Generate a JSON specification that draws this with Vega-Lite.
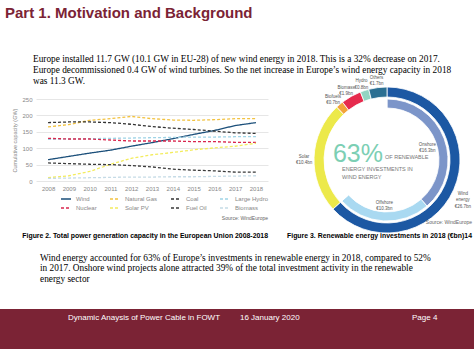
{
  "$schema": "https://vega.github.io/schema/vega-lite/v6.json",
  "padding": {"left": 0, "top": 5, "right": 0, "bottom": 0},
  "background": "white",
  "config": {"view": {"stroke": null}, "font": "Liberation Sans"},
  "title": {"text": "Part 1. Motivation and Background", "anchor": "start", "dx": 5, "font": "Liberation Sans", "fontSize": 15, "fontWeight": "bold", "color": "#7b2335", "offset": 34},
  "datasets": {
    "capacity": [
      {"year": "2008", "source": "Wind", "gw": 65}, {"year": "2009", "source": "Wind", "gw": 75}, {"year": "2010", "source": "Wind", "gw": 85}, {"year": "2011", "source": "Wind", "gw": 94}, {"year": "2012", "source": "Wind", "gw": 106}, {"year": "2013", "source": "Wind", "gw": 117}, {"year": "2014", "source": "Wind", "gw": 129}, {"year": "2015", "source": "Wind", "gw": 142}, {"year": "2016", "source": "Wind", "gw": 154}, {"year": "2017", "source": "Wind", "gw": 169}, {"year": "2018", "source": "Wind", "gw": 178},
      {"year": "2008", "source": "Natural Gas", "gw": 165}, {"year": "2009", "source": "Natural Gas", "gw": 172}, {"year": "2010", "source": "Natural Gas", "gw": 185}, {"year": "2011", "source": "Natural Gas", "gw": 190}, {"year": "2012", "source": "Natural Gas", "gw": 197}, {"year": "2013", "source": "Natural Gas", "gw": 190}, {"year": "2014", "source": "Natural Gas", "gw": 186}, {"year": "2015", "source": "Natural Gas", "gw": 185}, {"year": "2016", "source": "Natural Gas", "gw": 187}, {"year": "2017", "source": "Natural Gas", "gw": 190}, {"year": "2018", "source": "Natural Gas", "gw": 190},
      {"year": "2008", "source": "Coal", "gw": 178}, {"year": "2009", "source": "Coal", "gw": 180}, {"year": "2010", "source": "Coal", "gw": 180}, {"year": "2011", "source": "Coal", "gw": 178}, {"year": "2012", "source": "Coal", "gw": 173}, {"year": "2013", "source": "Coal", "gw": 166}, {"year": "2014", "source": "Coal", "gw": 161}, {"year": "2015", "source": "Coal", "gw": 157}, {"year": "2016", "source": "Coal", "gw": 152}, {"year": "2017", "source": "Coal", "gw": 147}, {"year": "2018", "source": "Coal", "gw": 145},
      {"year": "2008", "source": "Large Hydro", "gw": 127}, {"year": "2009", "source": "Large Hydro", "gw": 128}, {"year": "2010", "source": "Large Hydro", "gw": 129}, {"year": "2011", "source": "Large Hydro", "gw": 130}, {"year": "2012", "source": "Large Hydro", "gw": 131}, {"year": "2013", "source": "Large Hydro", "gw": 132}, {"year": "2014", "source": "Large Hydro", "gw": 133}, {"year": "2015", "source": "Large Hydro", "gw": 134}, {"year": "2016", "source": "Large Hydro", "gw": 134}, {"year": "2017", "source": "Large Hydro", "gw": 135}, {"year": "2018", "source": "Large Hydro", "gw": 135},
      {"year": "2008", "source": "Nuclear", "gw": 130}, {"year": "2009", "source": "Nuclear", "gw": 128}, {"year": "2010", "source": "Nuclear", "gw": 128}, {"year": "2011", "source": "Nuclear", "gw": 125}, {"year": "2012", "source": "Nuclear", "gw": 122}, {"year": "2013", "source": "Nuclear", "gw": 122}, {"year": "2014", "source": "Nuclear", "gw": 122}, {"year": "2015", "source": "Nuclear", "gw": 120}, {"year": "2016", "source": "Nuclear", "gw": 120}, {"year": "2017", "source": "Nuclear", "gw": 118}, {"year": "2018", "source": "Nuclear", "gw": 118},
      {"year": "2008", "source": "Solar PV", "gw": 10}, {"year": "2009", "source": "Solar PV", "gw": 16}, {"year": "2010", "source": "Solar PV", "gw": 29}, {"year": "2011", "source": "Solar PV", "gw": 51}, {"year": "2012", "source": "Solar PV", "gw": 69}, {"year": "2013", "source": "Solar PV", "gw": 80}, {"year": "2014", "source": "Solar PV", "gw": 87}, {"year": "2015", "source": "Solar PV", "gw": 95}, {"year": "2016", "source": "Solar PV", "gw": 101}, {"year": "2017", "source": "Solar PV", "gw": 106}, {"year": "2018", "source": "Solar PV", "gw": 115},
      {"year": "2008", "source": "Fuel Oil", "gw": 55}, {"year": "2009", "source": "Fuel Oil", "gw": 53}, {"year": "2010", "source": "Fuel Oil", "gw": 51}, {"year": "2011", "source": "Fuel Oil", "gw": 50}, {"year": "2012", "source": "Fuel Oil", "gw": 47}, {"year": "2013", "source": "Fuel Oil", "gw": 43}, {"year": "2014", "source": "Fuel Oil", "gw": 36}, {"year": "2015", "source": "Fuel Oil", "gw": 33}, {"year": "2016", "source": "Fuel Oil", "gw": 31}, {"year": "2017", "source": "Fuel Oil", "gw": 27}, {"year": "2018", "source": "Fuel Oil", "gw": 27},
      {"year": "2008", "source": "Biomass", "gw": 8}, {"year": "2009", "source": "Biomass", "gw": 9}, {"year": "2010", "source": "Biomass", "gw": 10}, {"year": "2011", "source": "Biomass", "gw": 11}, {"year": "2012", "source": "Biomass", "gw": 12}, {"year": "2013", "source": "Biomass", "gw": 12}, {"year": "2014", "source": "Biomass", "gw": 13}, {"year": "2015", "source": "Biomass", "gw": 13}, {"year": "2016", "source": "Biomass", "gw": 14}, {"year": "2017", "source": "Biomass", "gw": 15}, {"year": "2018", "source": "Biomass", "gw": 16}
    ],
    "outer": [
      {"segment": "Wind energy", "value": 26.7, "rank": 1, "label": "Wind\nenergy\n€26.7bn"},
      {"segment": "Solar", "value": 10.4, "rank": 2, "label": "Solar\n€10.4bn"},
      {"segment": "Biofuels", "value": 0.7, "rank": 3, "label": "Biofuels\n€0.7bn"},
      {"segment": "Biomass", "value": 1.9, "rank": 4, "label": "Biomass\n€1.9bn"},
      {"segment": "Hydro", "value": 0.8, "rank": 5, "label": "Hydro\n€0.8bn"},
      {"segment": "Others", "value": 1.7, "rank": 6, "label": "Others\n€1.7bn"}
    ],
    "inner": [
      {"segment": "Onshore", "value": 16.3, "rank": 1, "label": "Onshore\n€16.3bn"},
      {"segment": "Offshore", "value": 10.4, "rank": 2, "label": "Offshore\n€10.3bn"},
      {"segment": "Rest", "value": 15.5, "rank": 3, "label": ""}
    ],
    "footer": [
      {"label": "Dynamic Anaysis of Power Cable in FOWT"},
      {"label": "16 January 2020"},
      {"label": "Page 4"}
    ]
  },
  "align": "none",
  "spacing": 14,
  "vconcat": [
    {
      "title": {"text": ["Europe installed 11.7 GW (10.1 GW in EU-28) of new wind energy in 2018. This is a 32% decrease on 2017.", "Europe decommissioned 0.4 GW of wind turbines. So the net increase in Europe’s wind energy capacity in 2018", "was 11.3 GW."], "anchor": "start", "dx": 33, "font": "Liberation Serif", "fontSize": 9.3, "fontWeight": "normal", "color": "#000", "lineHeight": 11.2, "offset": -12},
      "spacing": 0,
      "hconcat": [
        {
          "width": 12, "height": 10,
          "view": {"fill": "white", "stroke": null},
          "data": {"values": [{"t": ""}]},
          "mark": {"type": "text"},
          "encoding": {"text": {"field": "t"}}
        },
        {
          "spacing": 18,
          "resolve": {"scale": {"color": "independent", "strokeDash": "independent", "theta": "independent"}, "legend": {"color": "independent", "strokeDash": "independent"}},
          "hconcat": [
            {
              "width": 232, "height": 82,
              "data": {"name": "capacity"},
              "title": {"text": "Source: WindEurope", "subtitle": "Figure 2. Total power generation capacity in the European Union 2008-2018", "orient": "bottom", "anchor": "end", "frame": "group", "font": "Liberation Sans", "fontSize": 5, "fontWeight": "normal", "color": "#666", "subtitleFont": "Liberation Sans", "subtitleFontSize": 6.9, "subtitleFontWeight": "bold", "subtitleColor": "#000", "offset": 5, "subtitlePadding": 12},
              "mark": {"type": "line", "strokeWidth": 1.3},
              "encoding": {
                "x": {"field": "year", "type": "ordinal", "scale": {"type": "point", "padding": 0.58}, "axis": {"title": null, "labelAngle": 0, "labelFontSize": 6, "labelColor": "#888", "domain": false, "ticks": false, "labelPadding": 4}},
                "y": {"field": "gw", "type": "quantitative", "scale": {"domain": [0, 250]}, "axis": {"title": "Cumulative capacity (GW)", "titleFontSize": 5.5, "titleFontWeight": "normal", "titleColor": "#888", "values": [0, 50, 100, 150, 200, 250], "labelFontSize": 6, "labelColor": "#888", "domain": false, "ticks": false, "gridColor": "#e6e6e6", "labelPadding": 4, "titlePadding": 4}},
                "color": {"field": "source", "type": "nominal", "scale": {"domain": ["Wind", "Natural Gas", "Coal", "Large Hydro", "Nuclear", "Solar PV", "Fuel Oil", "Biomass"], "range": ["#1b4f7a", "#f2c240", "#333333", "#9fd4e6", "#d9264d", "#f3ec5e", "#3a3a3a", "#c5dbe6"]}, "legend": {"title": null, "orient": "none", "legendX": 24, "legendY": 94, "direction": "horizontal", "columns": 4, "columnPadding": 10, "rowPadding": -1, "symbolType": "stroke", "symbolSize": 100, "symbolStrokeWidth": 1.5, "labelFontSize": 6, "labelColor": "#888", "labelOffset": 4}},
                "strokeDash": {"field": "source", "type": "nominal", "scale": {"domain": ["Wind", "Natural Gas", "Coal", "Large Hydro", "Nuclear", "Solar PV", "Fuel Oil", "Biomass"], "range": [[1, 0], [3, 2], [3, 2], [3, 2], [3, 2], [3, 2], [3, 2], [3, 2]]}, "legend": {"title": null, "orient": "none", "legendX": 24, "legendY": 94, "direction": "horizontal", "columns": 4, "columnPadding": 10, "rowPadding": -1, "symbolType": "stroke", "symbolSize": 100, "symbolStrokeWidth": 1.5, "labelFontSize": 6, "labelColor": "#888", "labelOffset": 4}}
              }
            },
            {
              "width": 150, "height": 122,
              "title": {"text": "Source: WindEurope", "subtitle": "Figure 3. Renewable energy investments in 2018 (€bn)14", "orient": "bottom", "anchor": "end", "frame": "group", "dx": 10, "font": "Liberation Sans", "fontSize": 5, "fontWeight": "normal", "color": "#666", "subtitleFont": "Liberation Sans", "subtitleFontSize": 6.9, "subtitleFontWeight": "bold", "subtitleColor": "#000", "offset": -15, "subtitlePadding": 8},
              "layer": [
                {
                  "data": {"name": "outer"},
                  "mark": {"type": "arc", "innerRadius": 63, "outerRadius": 73, "stroke": "white", "strokeWidth": 0.8},
                  "encoding": {
                    "theta": {"field": "value", "type": "quantitative", "stack": true},
                    "order": {"field": "rank"},
                    "color": {"field": "segment", "type": "nominal", "scale": {"domain": ["Wind energy", "Solar", "Biofuels", "Biomass", "Hydro", "Others", "Onshore", "Offshore", "Rest"], "range": ["#1c58a3", "#ece94a", "#f2a33a", "#e62a4d", "#93d5c2", "#2b6f92", "#7c95c9", "#a9d9f1", "#ffffff"]}, "legend": null}
                  }
                },
                {
                  "data": {"name": "inner"},
                  "mark": {"type": "arc", "innerRadius": 52, "outerRadius": 61, "stroke": "white", "strokeWidth": 0.8},
                  "encoding": {
                    "theta": {"field": "value", "type": "quantitative", "stack": true},
                    "order": {"field": "rank"},
                    "color": {"field": "segment", "type": "nominal", "legend": null}
                  }
                },
                {
                  "data": {"name": "outer"},
                  "mark": {"type": "text", "radius": 83, "fontSize": 4.5, "lineBreak": "\n", "color": "#555"},
                  "encoding": {
                    "theta": {"field": "value", "type": "quantitative", "stack": true},
                    "order": {"field": "rank"},
                    "text": {"field": "label"}
                  }
                },
                {
                  "data": {"name": "inner"},
                  "mark": {"type": "text", "radius": 43, "fontSize": 4.5, "lineBreak": "\n", "color": "#555"},
                  "encoding": {
                    "theta": {"field": "value", "type": "quantitative", "stack": true},
                    "order": {"field": "rank"},
                    "text": {"field": "label"}
                  }
                },
                {
                  "data": {"values": [{"t": "63%"}]},
                  "mark": {"type": "text", "fontSize": 25, "color": "#7ccfb4", "align": "right", "baseline": "alphabetic", "dx": -4, "dy": 2},
                  "encoding": {"text": {"field": "t"}}
                },
                {
                  "data": {"values": [{"t": "OF RENEWABLE"}]},
                  "mark": {"type": "text", "fontSize": 5.5, "color": "#777", "align": "left", "baseline": "middle", "dx": -2, "dy": -3},
                  "encoding": {"text": {"field": "t"}}
                },
                {
                  "data": {"values": [{"t": "ENERGY INVESTMENTS IN\nWIND ENERGY"}]},
                  "mark": {"type": "text", "fontSize": 5.5, "color": "#777", "align": "left", "baseline": "top", "lineBreak": "\n", "lineHeight": 8, "dx": -45, "dy": 7},
                  "encoding": {"text": {"field": "t"}}
                }
              ]
            }
          ]
        }
      ]
    },
    {
      "width": 474, "height": 40,
      "view": {"fill": "#7b2335", "stroke": null},
      "title": {"text": ["Wind energy accounted for 63% of Europe’s investments in renewable energy in 2018, compared to 52%", "in 2017. Onshore wind projects alone attracted 39% of the total investment activity in the renewable", "energy sector"], "anchor": "start", "dx": 40, "font": "Liberation Serif", "fontSize": 9.3, "fontWeight": "normal", "color": "#000", "lineHeight": 10.5, "offset": 25},
      "data": {"name": "footer"},
      "mark": {"type": "text", "align": "left", "baseline": "middle", "color": "white", "fontSize": 8, "font": "Liberation Sans", "dx": 3, "dy": -11},
      "encoding": {
        "x": {"field": "label", "type": "nominal", "sort": null, "scale": {"type": "point", "padding": 0.378}, "axis": null},
        "text": {"field": "label"}
      }
    }
  ]
}
